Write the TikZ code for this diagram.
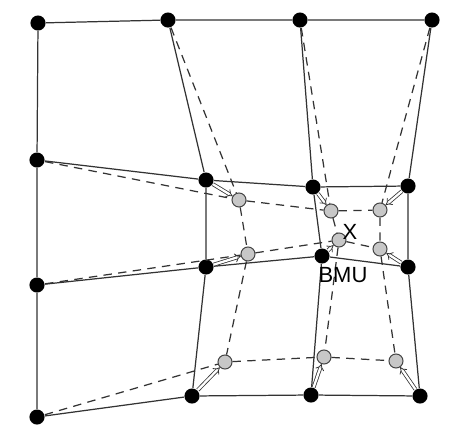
\documentclass[tikz,border=0pt]{standalone}
\usepackage{fontspec}
\setmainfont{Liberation Sans}
\usetikzlibrary{arrows.meta}

\begin{document}
\begin{tikzpicture}[x=0.02cm,y=-0.02cm,color=black!80,every path/.append style={line width=0.7pt},
	old/.style={fill=black,circle,inner sep=0pt,minimum size=8.6pt},
	new/.style={draw=black!75,fill=black!22,circle,inner sep=0pt,minimum size=8pt,line width=0.55pt},
	move/.style={double,double distance=1.3pt,line width=0.45pt,-{Implies}},
	lbl/.style={font=\fontsize{12.5}{14}\selectfont,text=black,inner sep=1pt}]
\useasboundingbox (0,0) rectangle (474,444);
% old weights (black) and new weights (grey)
\foreach \n/\x/\y in {n00/38/23,n01/168/20,n02/300/20,n03/432/20,
	n10/37/160,n11/206/180,n12/313/187,n13/408/186,
	n20/37/285,n21/206/267,n22/322/256,n23/408/267,
	n30/37/417,n31/192/396,n32/311/395,n33/420/396} {
	\node[old] (\n) at (\x,\y) {};
}
\foreach \n/\x/\y in {m11/239/200,m12/331/211,m13/380/210,
	m21/248/254,m22/339/240,m23/380/249,
	m31/225/362,m32/324/357,m33/396/361} {
	\node[new] (\n) at (\x,\y) {};
}
\foreach \r in {0,1,2,3} {
	\draw (n\r0) -- (n\r1) -- (n\r2) -- (n\r3);
	\draw (n0\r) -- (n1\r) -- (n2\r) -- (n3\r);
}
\foreach \r in {1,2,3} {
	\draw[dashed,dash pattern=on 4.8pt off 3.6pt] (n\r0) -- (m\r1) -- (m\r2) -- (m\r3);
	\draw[dashed,dash pattern=on 4.8pt off 3.6pt] (n0\r) -- (m1\r) -- (m2\r) -- (m3\r);
	\foreach \c in {1,2,3} {
		\draw[move] (n\r\c) -- (m\r\c);
	}
}
\node[lbl] (x) at (350,232) {X};
\node[lbl] (bmu) at (343,275) {BMU};
\end{tikzpicture}
\end{document}
